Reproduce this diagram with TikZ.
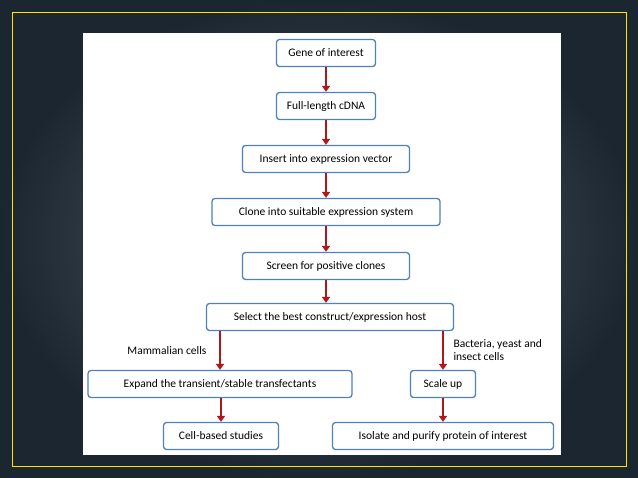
\documentclass[tikz,border=0pt]{standalone}
\usepackage{fontspec}
\setmainfont{Carlito}
\usetikzlibrary{arrows.meta,shadings}
\definecolor{bgin}{HTML}{56616B}
\definecolor{bgout}{HTML}{1C2630}
\definecolor{boxblue}{HTML}{4F81BD}
\definecolor{arrred}{HTML}{B01818}
\begin{document}
\begin{tikzpicture}[x=1pt,y=-1pt,
  box/.style={draw=boxblue,line width=1.3pt,rounded corners=3pt,fill=white,minimum height=27pt,inner xsep=6pt,font=\fontsize{11.5}{13}\selectfont},
  arr/.style={draw=arrred,line width=2.6pt,-{Triangle[length=6pt,width=8pt]}},
  lab/.style={font=\fontsize{11.5}{13}\selectfont,align=left}]
\useasboundingbox (0,0) rectangle (638,478);
\shade[inner color=bgin,outer color=bgout] (0,0) rectangle (638,478);
\draw[draw=yellow!85!orange,line width=0.8pt] (12,12) rectangle (626,466);
\fill[white] (83,33) rectangle (561,455);
\node[box,minimum width=99pt] (a) at (326,53) {Gene of interest};
\node[box,minimum width=99pt] (b) at (326,106) {Full-length cDNA};
\node[box,minimum width=167pt] (c) at (326,159) {Insert into expression vector};
\node[box,minimum width=228pt] (d) at (326,212) {Clone into suitable expression system};
\node[box,minimum width=167pt] (e) at (326,266) {Screen for positive clones};
\node[box,minimum width=247pt] (f) at (330,317) {Select the best construct/expression host};
\node[box,minimum width=264pt] (g) at (220,384) {Expand the transient/stable transfectants};
\node[box,minimum width=65pt] (h) at (443,384) {Scale up};
\node[box,minimum width=115pt] (i) at (221,436) {Cell-based studies};
\node[box,minimum width=221pt] (j) at (443,436) {Isolate and purify protein of interest};
\draw[arr] (a) -- (b);
\draw[arr] (b) -- (c);
\draw[arr] (c) -- (d);
\draw[arr] (d) -- (e);
\draw[arr] (326,280) -- (f.north -| 326,0);
\draw[arr] (f.south -| g) -- (g);
\draw[arr] (f.south -| h) -- (h);
\draw[arr] (g.south -| i) -- (i);
\draw[arr] (h) -- (j);
\node[lab,anchor=east] (m) at (210,351) {Mammalian cells};
\node[lab,anchor=west] (n) at (450,350) {Bacteria, yeast and\\insect cells};
\end{tikzpicture}
\end{document}
